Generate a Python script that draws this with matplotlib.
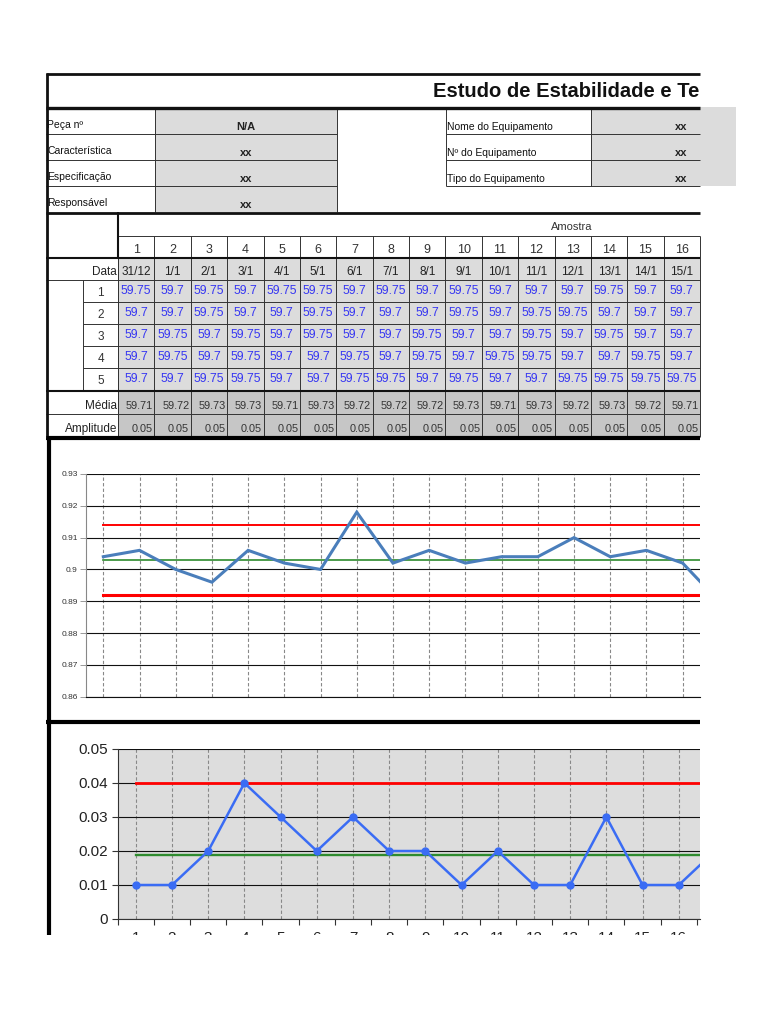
import matplotlib
matplotlib.use('Agg')
import matplotlib.pyplot as plt
from matplotlib.patches import Rectangle

plt.rcParams['font.family'] = ['Liberation Sans', 'DejaVu Sans']

# ---- dados do cabeçalho ----
titulo = 'Estudo de Estabilidade e Te'   # o resto do título fica fora da página
info_esq = ['Peça nº', 'Característica', 'Especificação', 'Responsável']
info_esq_val = ['N/A', 'xx', 'xx', 'xx']
info_dir = ['Nome do Equipamento', 'Nº do Equipamento', 'Tipo do Equipamento']
info_dir_val = ['xx', 'xx', 'xx']

# ---- tabela de leituras ----
amostras = ['1', '2', '3', '4', '5', '6', '7', '8', '9', '10', '11', '12', '13', '14', '15', '16']
datas = ['31/12', '1/1', '2/1', '3/1', '4/1', '5/1', '6/1', '7/1', '8/1', '9/1',
         '10/1', '11/1', '12/1', '13/1', '14/1', '15/1']
leitura1 = [59.75, 59.7, 59.75, 59.7, 59.75, 59.75, 59.7, 59.75, 59.7, 59.75, 59.7, 59.7, 59.7, 59.75, 59.7, 59.7]
leitura2 = [59.7, 59.7, 59.75, 59.7, 59.7, 59.75, 59.7, 59.7, 59.7, 59.75, 59.7, 59.75, 59.75, 59.7, 59.7, 59.7]
leitura3 = [59.7, 59.75, 59.7, 59.75, 59.7, 59.75, 59.7, 59.7, 59.75, 59.7, 59.7, 59.75, 59.7, 59.75, 59.7, 59.7]
leitura4 = [59.7, 59.75, 59.7, 59.75, 59.7, 59.7, 59.75, 59.7, 59.75, 59.7, 59.75, 59.75, 59.7, 59.7, 59.75, 59.7]
leitura5 = [59.7, 59.7, 59.75, 59.75, 59.7, 59.7, 59.75, 59.75, 59.7, 59.75, 59.7, 59.7, 59.75, 59.75, 59.75, 59.75]
leituras = [leitura1, leitura2, leitura3, leitura4, leitura5]
medias = [59.71, 59.72, 59.73, 59.73, 59.71, 59.73, 59.72, 59.72, 59.72, 59.73, 59.71, 59.73, 59.72, 59.73, 59.72, 59.71]
amplitudes = [0.05, 0.05, 0.05, 0.05, 0.05, 0.05, 0.05, 0.05, 0.05, 0.05, 0.05, 0.05, 0.05, 0.05, 0.05, 0.05]

# ---- gráfico das médias ----
media_pts = [0.904, 0.906, 0.900, 0.896, 0.906, 0.902, 0.900, 0.918, 0.902,
             0.906, 0.902, 0.904, 0.904, 0.910, 0.904, 0.906, 0.902, 0.890]
lsc_media = 0.914
lc_media = 0.903
lic_media = 0.892
ticks_media = [0.86, 0.87, 0.88, 0.89, 0.90, 0.91, 0.92, 0.93]

# ---- gráfico das amplitudes ----
amp_pts = [0.01, 0.01, 0.02, 0.04, 0.03, 0.02, 0.03, 0.02, 0.02,
           0.01, 0.02, 0.01, 0.01, 0.03, 0.01, 0.01, 0.02]
lsc_amp = 0.04
lc_amp = 0.0188
ticks_amp = [0, 0.01, 0.02, 0.03, 0.04, 0.05]

W, H = 768, 1024
fig = plt.figure(figsize=(7.68, 10.24), dpi=100)
bg = fig.add_axes([0, 0, 1, 1])
bg.set_xlim(0, W)
bg.set_ylim(H, 0)
bg.axis('off')


def linha(x0, x1, y0, y1, lw=0.7, c='#333333'):
    bg.plot([x0, x1], [y0, y1], color=c, lw=lw, solid_capstyle='butt')


def caixa(x, y, w, h, cor):
    bg.add_patch(Rectangle((x, y), w, h, facecolor=cor, edgecolor='none'))


cinza = '#dcdcdc'
cinza2 = '#c6c6c6'

# cabeçalho
bg.text(433, 97, titulo, fontsize=14.5, weight='bold', ha='left', va='baseline', color='#111111')
caixa(155, 107, 182, 105, cinza)
caixa(591, 107, 145, 79, cinza)
for y in [134, 160, 186]:
    linha(46, 337, y, y)
    linha(446, 700, y, y)
linha(155, 155, 107, 212)
linha(337, 337, 107, 212)
linha(446, 446, 107, 186)
linha(591, 591, 107, 186)
lin_inf = [134, 160, 186, 212]
for i in range(4):
    bg.text(47, lin_inf[i] - 6, info_esq[i], fontsize=7.5, ha='left', va='baseline', color='#111111')
    bg.text(246, lin_inf[i] - 4, info_esq_val[i], fontsize=8, weight='bold', ha='center', va='baseline', color='#222222')
for i in range(3):
    bg.text(447, lin_inf[i] - 4, info_dir[i], fontsize=7.5, ha='left', va='baseline', color='#111111')
    bg.text(681, lin_inf[i] - 4, info_dir_val[i], fontsize=8, weight='bold', ha='center', va='baseline', color='#222222')

# tabela
cx = [118 + 36.375 * j for j in range(17)]
caixa(118, 258, 582, 133, cinza)
caixa(118, 391, 582, 46, cinza2)
bg.text(572, 230, 'Amostra', fontsize=8, ha='center', va='baseline', color='#333333')
linha(118, 700, 236, 236)
for x in cx:
    linha(x, x, 236, 437)
for y in [302, 324, 346, 368]:
    linha(83, 700, y, y)
linha(46, 700, 280, 280)
linha(46, 700, 414, 414)
linha(83, 83, 280, 391)
linha(118, 118, 212, 258, lw=1.5, c='#111111')
linha(118, 118, 258, 437)
linha(46, 700, 258, 258, lw=1.5, c='#111111')
linha(46, 700, 391, 391, lw=1.5, c='#111111')

lin_y = [291, 313, 335, 357, 379.5]
for j in range(16):
    xc = (cx[j] + cx[j + 1]) / 2
    bg.text(xc, 253, amostras[j], fontsize=9, ha='center', va='baseline', color='#333333')
    bg.text(xc, 275, datas[j], fontsize=8.5, ha='center', va='baseline', color='#222222')
    for i in range(5):
        bg.text(xc, lin_y[i], '{:g}'.format(leituras[i][j]), fontsize=8.8, ha='center', va='center', color='#3535f2')
    bg.text(cx[j + 1] - 1.5, 409, '{:.2f}'.format(medias[j]), fontsize=7.8, ha='right', va='baseline', color='#333333')
    bg.text(cx[j + 1] - 1.5, 432, '{:.2f}'.format(amplitudes[j]), fontsize=7.8, ha='right', va='baseline', color='#333333')
bg.text(117, 275, 'Data', fontsize=8.5, ha='right', va='baseline', color='#222222')
for i in range(5):
    bg.text(100.5, lin_y[i] + 5, str(i + 1), fontsize=8.5, ha='center', va='baseline', color='#333333')
bg.text(117, 409, 'Média', fontsize=8.5, ha='right', va='baseline', color='#222222')
bg.text(117, 432, 'Amplitude', fontsize=8.5, ha='right', va='baseline', color='#222222')

# linhas grossas e moldura
linha(46, 700, 73.5, 73.5, lw=2, c='#111111')
linha(46, 700, 107.5, 107.5, lw=2.4, c='#111111')
linha(46, 700, 212.5, 212.5, lw=2, c='#111111')
linha(46, 700, 438, 438, lw=3, c='#000000')
linha(46, 700, 722, 722, lw=3, c='#000000')
linha(46.5, 46.5, 73, 438, lw=2, c='#111111')
linha(49, 49, 436, 935, lw=3, c='#000000')

# gráfico das médias
ax1 = fig.add_axes([86 / W, 1 - 696.7 / H, 614 / W, 222.7 / H])
x1 = list(range(1, len(media_pts) + 1))
ax1.plot(x1, media_pts, color='#4a7ebb', lw=2.2, zorder=5, solid_joinstyle='miter')
ax1.plot(x1, [lsc_media] * len(x1), color='#ff0000', lw=1.4, zorder=4)
ax1.plot(x1, [lic_media] * len(x1), color='#ff0000', lw=2.2, zorder=4)
ax1.plot(x1, [lc_media] * len(x1), color='#2e8b2e', lw=1.2, zorder=4)
ax1.set_yticks(ticks_media)
ax1.set_yticklabels(['{:g}'.format(t) for t in ticks_media])
ax1.set_xticks(x1)
ax1.set_xticklabels([])
ax1.set_xlim(0.522, 17.48)
ax1.set_ylim(0.86, 0.93)
ax1.tick_params(axis='x', length=0)
ax1.tick_params(axis='y', labelsize=6, length=4, width=0.6, color='#888888', labelcolor='#333333', pad=2)
ax1.grid(axis='x', ls=(0, (3, 2)), color='#888888', lw=0.8)
ax1.grid(axis='y', ls='-', color='#111111', lw=0.8)
ax1.set_axisbelow(True)
for s in ['top', 'right']:
    ax1.spines[s].set_visible(False)
ax1.spines['left'].set_color('#888888')
ax1.spines['left'].set_linewidth(0.8)
ax1.spines['bottom'].set_color('#111111')
ax1.spines['bottom'].set_linewidth(0.8)

# gráfico das amplitudes
ax2 = fig.add_axes([117.7 / W, 1 - 919 / H, 582.3 / W, 170 / H])
ax2.set_facecolor('#dddddd')
x2 = list(range(1, len(amp_pts) + 1))
ax2.plot(x2, amp_pts, color='#3a6cf4', lw=1.8, marker='o', ms=5, zorder=5)
ax2.plot(x2, [lsc_amp] * len(x2), color='#ff0000', lw=2, zorder=4)
ax2.plot(x2, [lc_amp] * len(x2), color='#2e8b2e', lw=1.7, zorder=4)
ax2.set_yticks(ticks_amp)
ax2.set_yticklabels(['{:g}'.format(t) for t in ticks_amp])
ax2.set_xticks(x2)
ax2.set_xticklabels([str(v) for v in x2])
ax2.set_xticks([v - 0.5 for v in x2], minor=True)
ax2.set_xlim(0.5, 16.586)
ax2.set_ylim(0, 0.05)
ax2.tick_params(axis='x', which='major', length=0, labelsize=11, pad=9, labelcolor='#222222')
ax2.tick_params(axis='x', which='minor', length=4, width=0.8, color='#333333')
ax2.tick_params(axis='y', labelsize=11, length=4, width=0.8, color='#333333', labelcolor='#222222', pad=3)
ax2.grid(axis='x', which='major', ls=(0, (3, 2)), color='#888888', lw=0.8)
ax2.grid(axis='y', ls='-', color='#111111', lw=0.8)
ax2.set_axisbelow(True)
for s in ['top', 'right']:
    ax2.spines[s].set_visible(False)
ax2.spines['left'].set_color('#333333')
ax2.spines['bottom'].set_color('#333333')

# a página termina em y=935: os rótulos do eixo x ficam cortados ao meio
fig.add_artist(Rectangle((0, 0), 1, 1 - 935 / H, transform=fig.transFigure,
                         facecolor='white', edgecolor='none', zorder=10))

fig.savefig('out.png', dpi=100)
